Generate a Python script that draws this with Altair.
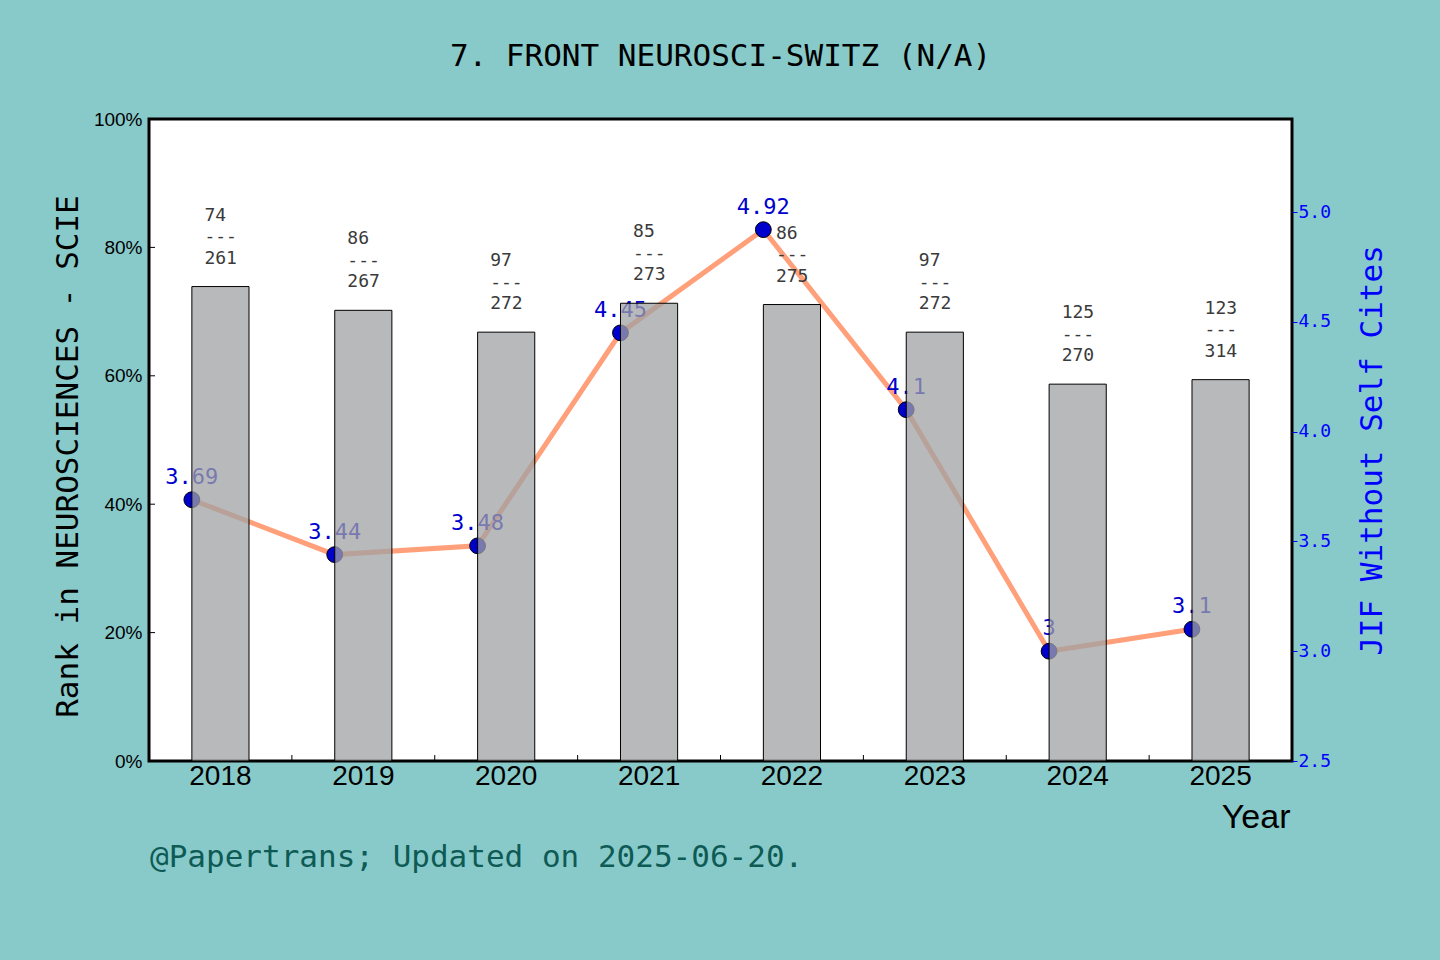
import altair as alt
import pandas as pd

# ---- data ----
years = ["2018", "2019", "2020", "2021", "2022", "2023", "2024", "2025"]
rank_pct = [73.9, 70.2, 66.8, 71.3, 71.1, 66.8, 58.7, 59.4]
ranks = [74, 86, 97, 85, 86, 97, 125, 123]
totals = [261, 267, 272, 273, 275, 272, 270, 314]
jif = [3.69, 3.44, 3.48, 4.45, 4.92, 4.1, 3.0, 3.1]
left_ticks = [0, 20, 40, 60, 80, 100]
right_ticks = [2.5, 3.0, 3.5, 4.0, 4.5, 5.0]
title_text = "7. FRONT NEUROSCI-SWITZ (N/A)"
footer_text = "@Papertrans; Updated on 2025-06-20."
left_title = "Rank in NEUROSCIENCES - SCIE"
right_title = "JIF Without Self Cites"
x_title = "Year"

df = pd.DataFrame({"year": years, "pct": rank_pct, "rank": ranks,
                   "total": totals, "jif": jif})
edge_df = pd.DataFrame({"year": years[:-1]})
lt_df = pd.DataFrame({"v": left_ticks})
foot_df = pd.DataFrame({"t": [footer_text]})

W, H = 1143, 642
MONO = "DejaVu Sans Mono"
SANS = "Liberation Sans"

xscale = alt.Scale(type="band", domain=years, paddingInner=0, paddingOuter=0)
lscale = alt.Scale(domain=[0, 100], nice=False, zero=True)
rscale = alt.Scale(domain=[2.5, 5.424], nice=False, zero=False)

x_axis = alt.Axis(title=x_title, labelFont=SANS, labelFontSize=28, labelColor="black",
                  labelAngle=0, ticks=False, domain=False, grid=False, labelPadding=1,
                  titleFont=SANS, titleFontSize=34, titleFontWeight="normal",
                  titleColor="black", titleX=W - 2, titleY=66, titleAlign="right",
                  titleBaseline="alphabetic")
left_axis = alt.Axis(orient="left", title=left_title, values=left_ticks,
                     labelExpr="datum.value + '%'",
                     labelFont=SANS, labelFontSize=19, labelColor="black", ticks=False,
                     domain=False, grid=False, labelPadding=7,
                     titleFont=MONO, titleFontSize=31, titleFontWeight="normal",
                     titleColor="black", titleAngle=270, titleX=-72, titleY=337,
                     titleAlign="center", titleBaseline="alphabetic")
right_axis = alt.Axis(orient="right", title=right_title, values=right_ticks, format=".1f",
                      labelFont=MONO, labelFontSize=18, labelColor="blue",
                      tickColor="blue", tickSize=5, tickWidth=1, labelPadding=1,
                      domain=False, grid=False,
                      titleFont=MONO, titleFontSize=31, titleFontWeight="normal",
                      titleColor="blue", titleAngle=270, titleX=89, titleY=331,
                      titleAlign="center", titleBaseline="alphabetic")

base = alt.Chart(df)
# identical x encoding everywhere so the shared x axis merges cleanly
xe = alt.X("year:N", scale=xscale, axis=x_axis)

line = base.mark_line(color="#FFA07A", strokeWidth=5, xOffset=-28.6).encode(
    x=xe, y=alt.Y("jif:Q", scale=rscale, axis=right_axis))
pts = base.mark_point(filled=True, shape="circle", size=250, color="#0000CD",
                      stroke="black", strokeWidth=1, opacity=1, xOffset=-28.6).encode(
    x=xe, y=alt.Y("jif:Q", scale=rscale, axis=None))
pt_labels = base.transform_calculate(lab="toString(datum.jif)").mark_text(
    font=MONO, fontSize=22, color="#0000CD", align="center",
    baseline="alphabetic", dy=-16, xOffset=-28.6).encode(
    x=xe, y=alt.Y("jif:Q", scale=rscale, axis=None), text="lab:N")

bars = base.mark_bar(color="#A0A2A4", fillOpacity=0.75, stroke="black", strokeWidth=1,
                     width=alt.RelativeBandSize(0.4)).encode(
    x=xe, y=alt.Y("pct:Q", scale=lscale, axis=left_axis))
bar_labels = base.transform_calculate(
    lab="[toString(datum.rank), '---', toString(datum.total)]").mark_text(
    font=MONO, fontSize=18, color="#3a3a3a", align="left", dx=-16,
    baseline="bottom", dy=-62, lineHeight=21.5).encode(
    x=xe, y=alt.Y("pct:Q", scale=lscale, axis=None), text="lab:N")
left_ticks_layer = alt.Chart(lt_df).mark_rule(color="black", strokeWidth=1).encode(
    y=alt.Y("v:Q", scale=lscale, axis=None), x=alt.value(0), x2=alt.value(6))
edge_ticks = alt.Chart(edge_df).mark_rule(color="black", strokeWidth=1,
                                          xOffset=W / 16).encode(
    x=xe, y=alt.value(H), y2=alt.value(H - 6))

footer = alt.Chart(foot_df).mark_text(font=MONO, fontSize=31, color="#0E5A55",
                                      align="left", baseline="alphabetic").encode(
    x=alt.value(1), y=alt.value(748), text="t:N")

chart = alt.layer(line, pts, pt_labels, bars, bar_labels, left_ticks_layer,
                  edge_ticks, footer).resolve_scale(
    y="independent").properties(
    width=W, height=H,
    title=alt.Title(title_text, font=MONO, fontSize=31, fontWeight="normal",
                    color="black", anchor="middle", frame="group",
                    baseline="alphabetic", offset=13),
    background="#88CAC9",
    padding={"left": 149, "top": 119, "right": 148, "bottom": 199},
    autosize=alt.AutoSizeParams(type="none"),
).configure_view(stroke="black", strokeWidth=3, fill="white")

chart.save("out.html", embed_options={"renderer": "svg", "actions": False})
